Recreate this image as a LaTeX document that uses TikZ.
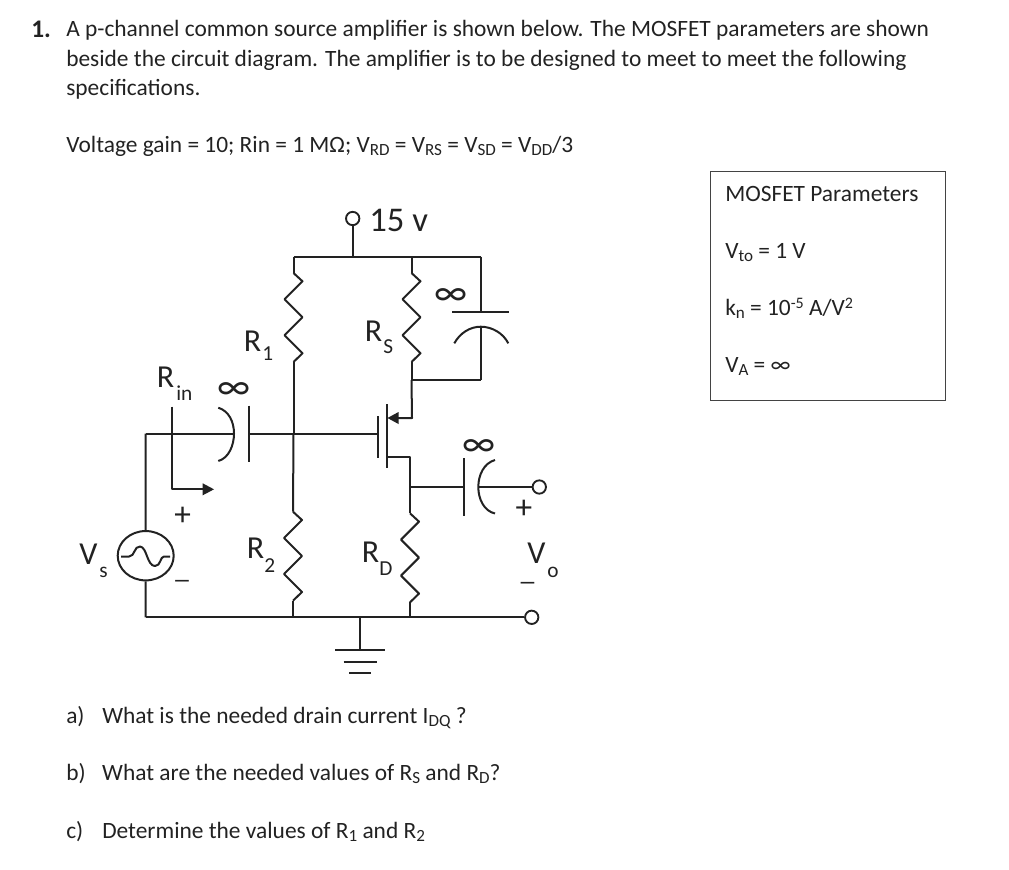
\documentclass[tikz,border=0pt]{standalone}
\usepackage{fontspec}
\setmainfont{Carlito}
\usetikzlibrary{arrows.meta,shapes.geometric}
\definecolor{ink}{HTML}{222222}
\newcommand{\fs}[1]{\fontsize{#1}{#1}\selectfont}
\newcommand{\sbs}[1]{\raisebox{-0.12em}{\fontsize{12.8}{12.8}\selectfont #1}}
\newcommand{\sps}[1]{\raisebox{0.3em}{\fontsize{12}{12}\selectfont #1}}
\tikzset{
  wire/.style={draw=ink,line width=1.5pt,line join=round},
  terminal/.style={circle,draw=ink,line width=1.4pt,fill=white,minimum size=10pt,inner sep=0pt},
  body/.style={anchor=base west,inner sep=0pt,text=ink,font=\fs{17.55}},
  lab/.style={anchor=base west,inner sep=0pt,text=ink,font=\fs{24}},
  subl/.style={anchor=base west,inner sep=0pt,text=ink,font=\fs{16}},
  sym/.style={anchor=center,inner sep=0pt,text=ink,font=\fs{29}},
  minus/.style={anchor=center,inner sep=0pt,text=ink,font=\bfseries\fs{14}},
  src/.style={ellipse,draw=ink,line width=1.5pt,minimum width=42pt,minimum height=37pt,inner sep=0pt},
  panel/.style={draw=ink!85,line width=0.8pt,anchor=north west,minimum width=176pt,minimum height=172pt,inner sep=0pt},
}
\newcommand{\zigzag}[3]{% x, y top, y bottom of resistor
  \draw[wire] (#1,#2) -- ++(9,8.3) -- ++(-18,18) -- ++(18,18) -- ++(-18,18) -- ++(18,18) -- (#1,#3);}
\newcommand{\qitem}[2]{\makebox[27pt][l]{#1}#2}
\begin{document}
\begin{tikzpicture}[x=0.75pt,y=-0.75pt]
\useasboundingbox (0,0) rectangle (1009,869);
% question text
\node[body,font=\bfseries\fs{19}] (num) at (31,37) {1.};
\node[body] (l1) at (66,36.8) {A p-channel common source amplifier is shown below. The MOSFET parameters are shown};
\node[body] (l2) at (66,66.8) {beside the circuit diagram. The amplifier is to be designed to meet to meet the following};
\node[body] (l3) at (66,95.8) {specifications.};
\node[body] (l4) at (66,152.8) {Voltage gain = 10; Rin = 1 MΩ; V\sbs{RD} = V\sbs{RS} = V\sbs{SD} = V\sbs{DD}/3};
\node[body] (qa) at (66,723.8) {\qitem{a)}{What is the needed drain current I\sbs{DQ} ?}};
\node[body] (qb) at (66,780.8) {\qitem{b)}{What are the needed values of R\sbs{S} and R\sbs{D}?}};
\node[body] (qc) at (66,838.8) {\qitem{c)}{Determine the values of R\sbs{1} and R\sbs{2}}};
% parameter box
\node[panel] (pbox) at (710,171) {};
\node[body] (p1) at (725,201.5) {MOSFET Parameters};
\node[body] (p2) at (725,258.5) {V\sbs{to} = 1 V};
\node[body] (p3) at (725,315.5) {k\sbs{n} = 10\sps{-5} A/V\sps{2}};
\node[body] (p4) at (725,372.5) {V\sbs{A} = ∞};
% named circuit points
\coordinate (railL) at (293.5,256.5);
\coordinate (railS) at (352.7,256.5);
\coordinate (railRs) at (411.5,256.5);
\coordinate (railC) at (480.7,256.5);
\coordinate (gateJ) at (293.5,433.5);
\coordinate (srcJ) at (411.5,380);
\coordinate (drainJ) at (410,487);
\coordinate (botL) at (145.5,617.3);
\coordinate (botR2) at (293,617.3);
\coordinate (botG) at (360,617.3);
\coordinate (botD) at (410,617.3);
\coordinate (inL) at (145.5,433.5);
\coordinate (rinTop) at (172,406.7);
\coordinate (rinCorner) at (172,489.3);
\coordinate (rinTip) at (214,489.3);
% supply rail
\node[terminal] (vdd) at (352.7,218.5) {};
\draw[wire] (railL) -- (railC);
\draw[wire] (vdd) -- (railS);
% R1
\draw[wire] (railL) -- (293.5,273);
\zigzag{293.5}{273}{362}
\draw[wire] (293.5,362) -- (gateJ);
% Rs
\draw[wire] (railRs) -- (411.5,273);
\zigzag{411.5}{273}{362}
\draw[wire] (411.5,362) -- (srcJ) -- (480.7,380);
% bypass cap
\draw[wire] (railC) -- (480.7,312.3);
\draw[wire] (452.3,312.3) -- (509.3,312.3);
\draw[wire] (454.3,343.3) .. controls (460,333) and (470,326.7) .. (480.7,326.7) .. controls (492,326.7) and (503,333) .. (508.3,343.3);
\draw[wire] (480.7,326.7) -- (480.7,380);
% MOSFET
\draw[wire] (srcJ) -- (412,418) -- (398,418);
\draw[wire] (387.3,404) -- (387.3,468);
\draw[wire] (378.3,416) -- (378.3,458);
\fill[ink] (387.5,418) -- (398.5,412) -- (398.5,424) -- cycle;
\draw[wire] (gateJ) -- (378.3,433.5);
\draw[wire] (387.3,456.7) -- (410,456.7) -- (drainJ);
% output cap
\draw[wire] (drainJ) -- (464,487);
\draw[wire] (464,458) -- (464,515.7);
\draw[wire] (495,460) .. controls (484,463) and (478.3,475) .. (478.3,487) .. controls (478.3,499) and (484,511) .. (495,513.5);
\node[terminal] (vop) at (539.3,487) {};
\draw[wire] (478.3,487) -- (vop);
% RD
\draw[wire] (drainJ) -- (410,513.3);
\zigzag{410}{513.3}{602.3}
\draw[wire] (410,602.3) -- (botD);
% R2
\draw[wire] (gateJ) -- (293,511.7);
\zigzag{293}{511.7}{600.7}
\draw[wire] (293,600.7) -- (botR2);
% bottom rail
\node[terminal] (vom) at (531.7,617.3) {};
\draw[wire] (botL) -- (vom);
% ground
\coordinate (gnd) at (360,650);
\draw[wire] (botG) -- (gnd);
\draw[wire] (335,650) -- (385,650);
\draw[wire] (343.5,661.7) -- (376.5,661.7);
\draw[wire] (349,673.3) -- (371,673.3);
% input
\draw[wire] (inL) -- (234,433.5);
\draw[wire] (218.3,407.7) .. controls (229,411) and (234,422) .. (234,433.5) .. controls (234,445) and (229,458) .. (218.3,461);
\draw[wire] (249,405.7) -- (249,462.3);
\draw[wire] (249,433.5) -- (gateJ);
% source
\node[src] (vs) at (145.7,555.7) {};
\draw[wire] (inL) -- (vs);
\draw[wire] (vs) -- (botL);
\draw[wire] (121,556.5) -- (129,556.5) .. controls (135,556.5) and (134,546) .. (140,546.5) .. controls (147,547) and (147,566) .. (155,566) .. controls (161,566) and (160,556.5) .. (164,556.5) -- (170,556.5);
% Rin marker
\draw[wire] (rinTop) -- (rinCorner) -- (203,489.3);
\fill[ink] (rinTip) -- (202.7,483.3) -- (202.7,495.3) -- cycle;
% labels
\node[lab,font=\fs{26}] (v15) at (369,231) {15 v};
\node[lab] (r1) at (243.5,351) {R};
\node[subl] (r1s) at (262,360) {1};
\node[lab] (rs) at (364.5,341) {R};
\node[subl] (rss) at (383,353) {S};
\node[lab] (rin) at (156.5,387) {R};
\node[subl] (rins) at (176,400) {in};
\node[lab] (r2) at (246.5,558) {R};
\node[subl] (r2s) at (264,572) {2};
\node[lab] (rd) at (361.5,562) {R};
\node[subl] (rds) at (379,575) {D};
\node[lab] (vsl) at (79,564) {V};
\node[subl] (vss) at (99,577) {s};
\node[lab] (vol) at (527,563) {V};
\node[subl] (vos) at (547,577) {o};
\node[sym] (cinf1) at (451,297) {∞};
\node[sym] (cinf2) at (234,391) {∞};
\node[sym] (cinf3) at (478.5,448) {∞};
\node[sym,font=\fs{25}] (pl1) at (182.7,516) {+};
\node[sym,font=\fs{25}] (pl2) at (524,509) {+};
\node[minus] (mi1) at (182,583.5) {—};
\node[minus] (mi2) at (527.5,585.5) {—};
\end{tikzpicture}
\end{document}
